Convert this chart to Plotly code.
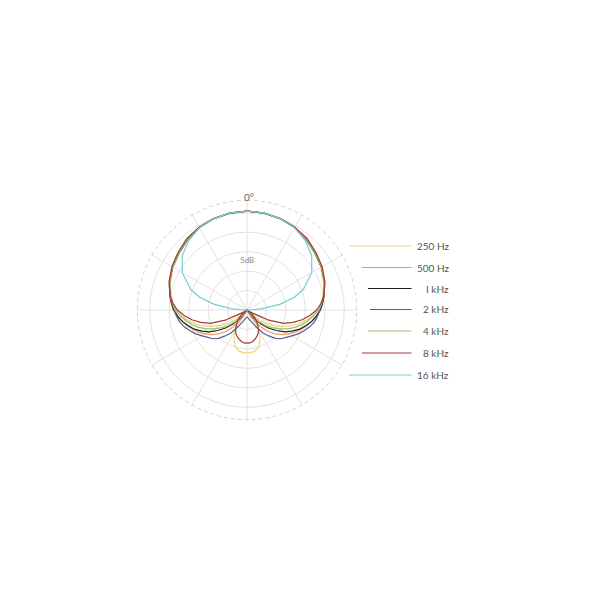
import plotly.graph_objects as go

# polar response, one half (0..180 deg), mirrored for the other side
angles = [0, 10, 20, 30, 40, 50, 60, 70, 75, 80, 85, 90, 95, 100, 105, 110, 115,
          120, 125, 130, 135, 140, 145, 150, 155, 160, 165, 170, 175, 180]

db_250 = [0.4, 0.3, 0.0, -0.5, -1.3, -2.2, -3.1, -4.1, -4.6, -5.3, -6.0, -6.8, -8.1, -9.6,
          -11.2, -13.0, -15.0, -17.1, -18.8, -21.4, -24.0, -23.0, -20.9, -18.8, -17.1,
          -15.6, -14.7, -14.2, -14.0, -14.0]
db_500 = [0.4, 0.3, 0.0, -0.5, -1.3, -2.2, -2.9, -3.8, -4.4, -5.0, -5.5, -6.0, -7.1, -8.1,
          -9.1, -10.3, -11.4, -12.7, -14.0, -15.5, -17.1, -19.1, -21.2, -23.2, -25.0,
          -25.0, -25.0, -25.0, -25.0, -25.0]
db_1k = [0.4, 0.3, 0.0, -0.5, -1.3, -2.2, -2.9, -3.8, -4.4, -4.9, -5.5, -6.2, -7.1, -8.1,
         -9.4, -10.6, -12.2, -13.8, -15.8, -17.8, -19.9, -22.4, -24.5, -25.0, -25.0,
         -25.0, -25.0, -25.0, -25.0, -25.0]
db_2k = [0.4, 0.3, 0.0, -0.5, -1.3, -2.2, -2.9, -3.8, -4.4, -5.0, -5.6, -6.3, -6.8, -7.4,
         -8.3, -9.4, -10.5, -11.7, -12.7, -13.5, -14.7, -16.3, -17.8, -19.6, -20.9,
         -21.8, -22.4, -22.8, -23.1, -23.2]
db_4k = [0.4, 0.3, 0.0, -0.5, -1.3, -2.2, -2.9, -3.8, -4.4, -5.0, -5.8, -6.5, -7.8, -9.1,
         -10.4, -11.9, -13.5, -15.3, -17.1, -18.8, -20.9, -23.2, -25.0, -25.0, -25.0,
         -25.0, -25.0, -25.0, -25.0, -25.0]
db_8k = [0.4, 0.3, 0.0, -0.4, -1.0, -1.9, -2.7, -3.7, -4.4, -5.0, -5.9, -7.1, -8.8, -10.6,
         -12.7, -15.0, -18.8, -23.5, -25.0, -23.5, -22.2, -21.2, -20.1, -19.1, -18.3,
         -17.7, -17.2, -16.8, -16.5, -16.5]
db_16k = [0.4, 0.3, 0.0, -0.6, -1.7, -3.3, -5.8, -9.6, -12.4, -16.3, -20.9, -24.2,
          -25.0, -25.0, -25.0, -25.0, -25.0, -25.0, -25.0, -25.0, -25.0, -25.0, -25.0,
          -25.0, -25.0, -25.0, -25.0, -25.0, -25.0, -25.0]

labels = ["250 Hz", "500 Hz", "I kHz", "2 kHz", "4 kHz", "8 kHz", "16 kHz"]
series = [db_250, db_500, db_1k, db_2k, db_4k, db_8k, db_16k]
colors = ["#f1d377", "#f0935e", "#1e1e1e", "#565f96", "#8dc173", "#a8383a", "#78cdd4"]

# legend line start (px from left) - purely cosmetic
legend_x0 = [350, 362, 368, 370, 368, 362, 349]
legend_y = [246, 267.5, 288.5, 309.5, 331, 353, 375]

OFF = 8.0  # page margin the browser adds around the plot
W = 600.0


def px(x):
    return (x - OFF) / W


def py(y):
    return 1 - (y - OFF) / W


def mirror(vals):
    return vals + vals[-2::-1]


theta = angles + [360 - a for a in angles[-2::-1]]

fig = go.Figure()

# dashed outer ring
ring_t = list(range(0, 361, 2))
fig.add_trace(go.Scatterpolar(
    r=[3.2] * len(ring_t), theta=ring_t, mode="lines",
    line=dict(color="#cfcfcf", width=1, dash="4px,3px"),
    hoverinfo="skip", showlegend=False))

# plotly's polar spline bulges the lobes out, so plain segments
for name, vals, c in zip(labels, series, colors):
    fig.add_trace(go.Scatterpolar(
        r=mirror(vals), theta=theta, mode="lines", name=name,
        line=dict(color=c, width=1.2), showlegend=False))

for y, x0, c, name in zip(legend_y, legend_x0, colors, labels):
    fig.add_shape(type="line", xref="paper", yref="paper",
                  x0=px(x0), x1=px(411.5), y0=py(y), y1=py(y),
                  line=dict(color=c, width=1.2))
    fig.add_annotation(text=name, xref="paper", yref="paper",
                       x=px(451), y=py(y), xanchor="right", yanchor="middle",
                       showarrow=False, font=dict(size=10, color="#555555"))

fig.add_annotation(text="0°", xref="paper", yref="paper", x=px(249), y=py(189),
                   showarrow=False, font=dict(size=10, color="#666666"))
fig.add_annotation(text="5dB", xref="paper", yref="paper", x=px(246.5), y=py(260),
                   showarrow=False, font=dict(size=8, color="#8a8a8a"))

cx, cy, R = 247.0, 310.0, 110.5
fig.update_layout(
    width=600, height=600,
    margin=dict(l=0, r=0, t=0, b=0),
    paper_bgcolor="white",
    font=dict(family="Lato, Open Sans, sans-serif"),
    polar=dict(
        domain=dict(x=[px(cx - R), px(cx + R)], y=[py(cy + R), py(cy - R)]),
        bgcolor="white",
        radialaxis=dict(range=[-25, 3.4], tickvals=[-20, -15, -10, -5, 0],
                        showticklabels=False, ticks="", showline=False,
                        gridcolor="#e2e2e2", gridwidth=1),
        angularaxis=dict(rotation=90, direction="clockwise", dtick=30,
                         showticklabels=False, ticks="", showline=False,
                         gridcolor="#e2e2e2", gridwidth=1),
    ),
)

fig.write_html("out.html")
